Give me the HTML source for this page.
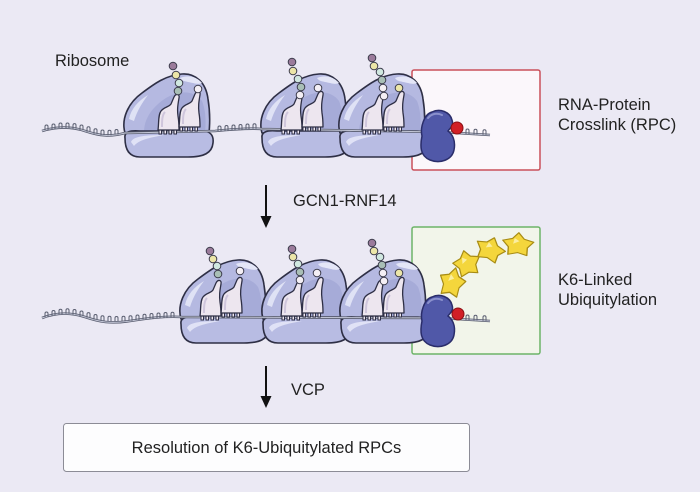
<!DOCTYPE html>
<html>
<head>
<meta charset="utf-8">
<style>
html,body{margin:0;padding:0;background:#ebe9f4;}
svg{display:block;}
text{font-family:"Liberation Sans",Arial,sans-serif;fill:#222;font-size:16.5px;}
</style>
</head>
<body>
<svg xmlns="http://www.w3.org/2000/svg" width="700" height="492" viewBox="0 0 700 492">
<defs>
  <g id="rib">
    <path d="M1,2 C-3,-12 4,-28 18,-38 C30,-47 42,-56 58,-57 C72,-58 82,-48 84,-32 C86,-20 86,-8 85,2 Z" fill="#b5b9e1" stroke="#2e2f45" stroke-width="1.6" stroke-linejoin="round"/>
    <path d="M20,1 C20,-12 28,-24 42,-33 C55,-41 70,-41 78,-30 C82,-20 82,-8 81,1 Z" fill="#a6abd8"/>
    <path d="M5,-12 C7,-22 14,-30 24,-36 C18,-28 13,-20 10,-10 Z" fill="#dfe2f5"/>
    <path d="M56,-53 C64,-56 72,-55 78,-48 C74,-46 70,-48 64,-49 C60,-50 58,-50 56,-53 Z" fill="#e4e6f7"/>
    <path d="M1,7 C0,1 6,-1 16,0 L78,0 C86,0 90,4 89,12 C88,22 80,26 64,26 L16,26 C6,26 1,20 1,7 Z" fill="#b8bce3" stroke="#2e2f45" stroke-width="1.6"/>
    <path d="M7,11 C9,6 18,4 40,4 C24,7 15,9 10,15 Z" fill="#e0e2f6"/>
  </g>
  <g id="t1">
    <path d="M1,-1 v4 h2.5 v-4 M6,-1 v4 h2.5 v-4 M11,-1 v4 h2.5 v-4 M16,-1 v4 h2.5 v-4" fill="#ede6ef" stroke="#2e2f45" stroke-width="1"/>
    <path d="M0,-1 C1,-8 0,-16 3,-20 C6,-24 11,-24 13,-27 L16,-34 C18,-38 22,-37 21,-33 C20,-27 19,-22 20,-15 C21,-9 21,-5 21,-1 Z" fill="#ede6ef" stroke="#2e2f45" stroke-width="1.3" stroke-linejoin="round"/>
    <path d="M4,-4 C4,-10 4,-16 7,-19" fill="none" stroke="#cfc6dc" stroke-width="2"/>
  </g>
  <g id="tr">
    <use href="#t1"/>
    <use href="#t1" transform="translate(21,-3)"/>
  </g>
  <g id="star">
    <polygon points="0,-13 4.7,-6.5 12.4,-4 7.6,2.5 7.6,10.5 0,8 -7.6,10.5 -7.6,2.5 -12.4,-4 -4.7,-6.5" fill="#f4d63c" stroke="#a88c14" stroke-width="1.1" stroke-linejoin="round"/>
    <polygon points="-3,-7 1,-4 -4,-1" fill="#fbeea0"/>
  </g>
  <g id="prot">
    <path d="M432,112 C440,108 450,112 452,120 C454,126 450,128 448,131 C452,134 456,140 454,150 C452,160 440,164 430,160 C420,156 420,146 422,136 C420,128 424,114 432,112 Z" fill="#5058a8" stroke="#2a2d6a" stroke-width="1.5"/>
    <path d="M428,118 C432,113 438,113 442,115" fill="none" stroke="#8a90cc" stroke-width="2" stroke-linecap="round"/>
  </g>
</defs>

<!-- Boxes -->
<rect x="412" y="70" width="128" height="100" rx="2" fill="#fbf7fb" stroke="#c9505b" stroke-width="1.5"/>
<rect x="412" y="227" width="128" height="127" rx="2" fill="#f2f5ea" stroke="#6db468" stroke-width="1.5"/>

<!-- Row 1 ribosomes -->
<use href="#rib" transform="translate(124,131)"/>
<use href="#rib" transform="translate(261,131)"/>
<use href="#rib" transform="translate(339,131)"/>

<!-- Row 1 mRNA -->
<path d="M42,131 C55,127 70,126 85,131 S110,137 125,133 L215,131 C235,129 250,128 262,129 L440,132 L490,135" fill="none" stroke="#5a5e70" stroke-width="2.6"/>
<path d="M42,131 C55,127 70,126 85,131 S110,137 125,133 L215,131 C235,129 250,128 262,129 L440,132 L490,135" fill="none" stroke="#c3c6d6" stroke-width="1"/>
<g fill="none" stroke="#5a5e70" stroke-width="1">
  <path d="M45,130 v-3.5 q0,-1.5 1.5,-1.5 q1.5,0 1.5,1.5 v3.5"/>
  <path d="M52,129 v-3.5 q0,-1.5 1.5,-1.5 q1.5,0 1.5,1.5 v3.5"/>
  <path d="M59,128 v-3.5 q0,-1.5 1.5,-1.5 q1.5,0 1.5,1.5 v3.5"/>
  <path d="M66,128 v-3.5 q0,-1.5 1.5,-1.5 q1.5,0 1.5,1.5 v3.5"/>
  <path d="M73,128.6 v-3.5 q0,-1.5 1.5,-1.5 q1.5,0 1.5,1.5 v3.5"/>
  <path d="M80,130 v-3.5 q0,-1.5 1.5,-1.5 q1.5,0 1.5,1.5 v3.5"/>
  <path d="M87,131.8 v-3.5 q0,-1.5 1.5,-1.5 q1.5,0 1.5,1.5 v3.5"/>
  <path d="M94,133.8 v-3.5 q0,-1.5 1.5,-1.5 q1.5,0 1.5,1.5 v3.5"/>
  <path d="M101,135 v-3.5 q0,-1.5 1.5,-1.5 q1.5,0 1.5,1.5 v3.5"/>
  <path d="M108,135.2 v-3.5 q0,-1.5 1.5,-1.5 q1.5,0 1.5,1.5 v3.5"/>
  <path d="M115,134.5 v-3.5 q0,-1.5 1.5,-1.5 q1.5,0 1.5,1.5 v3.5"/>
  <path d="M218,131 v-3.5 q0,-1.5 1.5,-1.5 q1.5,0 1.5,1.5 v3.5"/>
  <path d="M225,130.5 v-3.5 q0,-1.5 1.5,-1.5 q1.5,0 1.5,1.5 v3.5"/>
  <path d="M232,130 v-3.5 q0,-1.5 1.5,-1.5 q1.5,0 1.5,1.5 v3.5"/>
  <path d="M239,129.5 v-3.5 q0,-1.5 1.5,-1.5 q1.5,0 1.5,1.5 v3.5"/>
  <path d="M246,129 v-3.5 q0,-1.5 1.5,-1.5 q1.5,0 1.5,1.5 v3.5"/>
  <path d="M253,128.8 v-3.5 q0,-1.5 1.5,-1.5 q1.5,0 1.5,1.5 v3.5"/>
  <path d="M466,134 v-3.5 q0,-1.5 1.5,-1.5 q1.5,0 1.5,1.5 v3.5"/>
  <path d="M474,134.3 v-3.5 q0,-1.5 1.5,-1.5 q1.5,0 1.5,1.5 v3.5"/>
  <path d="M483,134.7 v-3.5 q0,-1.5 1.5,-1.5 q1.5,0 1.5,1.5 v3.5"/>
</g>

<!-- Row 1 tRNAs & chains -->
<use href="#tr" transform="translate(158,131)"/>
<use href="#tr" transform="translate(281,131)"/>
<use href="#tr" transform="translate(362,131)"/>
<g stroke="#3d3d4d" stroke-width="1">
  <circle cx="173" cy="66" r="3.8" fill="#9b7b9b"/>
  <circle cx="176" cy="75" r="3.8" fill="#ece6a8"/>
  <circle cx="179" cy="83" r="3.8" fill="#d0e8e0"/>
  <circle cx="178" cy="91" r="3.8" fill="#a9bfb6"/>
  <circle cx="198" cy="89" r="3.8" fill="#f4eff5"/>

  <circle cx="292" cy="62" r="3.8" fill="#9b7b9b"/>
  <circle cx="293" cy="71" r="3.8" fill="#ece6a8"/>
  <circle cx="298" cy="79" r="3.8" fill="#d0e8e0"/>
  <circle cx="301" cy="87" r="3.8" fill="#a9bfb6"/>
  <circle cx="300" cy="95" r="3.8" fill="#f4eff5"/>
  <circle cx="318" cy="88" r="3.8" fill="#f4eff5"/>

  <circle cx="372" cy="58" r="3.8" fill="#9b7b9b"/>
  <circle cx="374" cy="66" r="3.8" fill="#ece6a8"/>
  <circle cx="380" cy="72" r="3.8" fill="#d0e8e0"/>
  <circle cx="382" cy="80" r="3.8" fill="#a9bfb6"/>
  <circle cx="383" cy="88" r="3.8" fill="#f4eff5"/>
  <circle cx="384" cy="96" r="3.8" fill="#f4eff5"/>
  <circle cx="399" cy="88" r="3.8" fill="#ece6a8"/>
</g>

<!-- Row 1 protein + crosslink -->
<use href="#prot"/>
<circle cx="457" cy="128" r="6" fill="#d11f26" stroke="#8a1015" stroke-width="1"/>

<!-- Row 2 ribosomes -->
<use href="#rib" transform="translate(180,317)"/>
<use href="#rib" transform="translate(262,317)"/>
<use href="#rib" transform="translate(340,317)"/>

<!-- Row 2 mRNA -->
<path d="M42,318 C55,313 70,312 85,317 S110,324 130,321 C150,318 165,316 182,317 L440,318 L490,321" fill="none" stroke="#5a5e70" stroke-width="2.6"/>
<path d="M42,318 C55,313 70,312 85,317 S110,324 130,321 C150,318 165,316 182,317 L440,318 L490,321" fill="none" stroke="#c3c6d6" stroke-width="1"/>
<g fill="none" stroke="#5a5e70" stroke-width="1">
  <path d="M45,317 v-3.5 q0,-1.5 1.5,-1.5 q1.5,0 1.5,1.5 v3.5"/>
  <path d="M52,315.5 v-3.5 q0,-1.5 1.5,-1.5 q1.5,0 1.5,1.5 v3.5"/>
  <path d="M59,314.3 v-3.5 q0,-1.5 1.5,-1.5 q1.5,0 1.5,1.5 v3.5"/>
  <path d="M66,313.8 v-3.5 q0,-1.5 1.5,-1.5 q1.5,0 1.5,1.5 v3.5"/>
  <path d="M73,314.5 v-3.5 q0,-1.5 1.5,-1.5 q1.5,0 1.5,1.5 v3.5"/>
  <path d="M80,316 v-3.5 q0,-1.5 1.5,-1.5 q1.5,0 1.5,1.5 v3.5"/>
  <path d="M87,317.6 v-3.5 q0,-1.5 1.5,-1.5 q1.5,0 1.5,1.5 v3.5"/>
  <path d="M94,319.5 v-3.5 q0,-1.5 1.5,-1.5 q1.5,0 1.5,1.5 v3.5"/>
  <path d="M101,320.8 v-3.5 q0,-1.5 1.5,-1.5 q1.5,0 1.5,1.5 v3.5"/>
  <path d="M108,321.3 v-3.5 q0,-1.5 1.5,-1.5 q1.5,0 1.5,1.5 v3.5"/>
  <path d="M115,321.5 v-3.5 q0,-1.5 1.5,-1.5 q1.5,0 1.5,1.5 v3.5"/>
  <path d="M122,321.2 v-3.5 q0,-1.5 1.5,-1.5 q1.5,0 1.5,1.5 v3.5"/>
  <path d="M129,320.7 v-3.5 q0,-1.5 1.5,-1.5 q1.5,0 1.5,1.5 v3.5"/>
  <path d="M136,320 v-3.5 q0,-1.5 1.5,-1.5 q1.5,0 1.5,1.5 v3.5"/>
  <path d="M143,319.2 v-3.5 q0,-1.5 1.5,-1.5 q1.5,0 1.5,1.5 v3.5"/>
  <path d="M150,318.5 v-3.5 q0,-1.5 1.5,-1.5 q1.5,0 1.5,1.5 v3.5"/>
  <path d="M157,318 v-3.5 q0,-1.5 1.5,-1.5 q1.5,0 1.5,1.5 v3.5"/>
  <path d="M164,317.5 v-3.5 q0,-1.5 1.5,-1.5 q1.5,0 1.5,1.5 v3.5"/>
  <path d="M171,317.2 v-3.5 q0,-1.5 1.5,-1.5 q1.5,0 1.5,1.5 v3.5"/>
  <path d="M466,320 v-3.5 q0,-1.5 1.5,-1.5 q1.5,0 1.5,1.5 v3.5"/>
  <path d="M474,320.3 v-3.5 q0,-1.5 1.5,-1.5 q1.5,0 1.5,1.5 v3.5"/>
  <path d="M483,320.7 v-3.5 q0,-1.5 1.5,-1.5 q1.5,0 1.5,1.5 v3.5"/>
</g>

<!-- Row 2 tRNAs & chains -->
<use href="#tr" transform="translate(200,317)"/>
<use href="#tr" transform="translate(281,317)"/>
<use href="#tr" transform="translate(362,317)"/>
<g stroke="#3d3d4d" stroke-width="1">
  <circle cx="210" cy="251" r="3.8" fill="#9b7b9b"/>
  <circle cx="213" cy="259" r="3.8" fill="#ece6a8"/>
  <circle cx="217" cy="266" r="3.8" fill="#d0e8e0"/>
  <circle cx="218" cy="274" r="3.8" fill="#a9bfb6"/>
  <circle cx="240" cy="271" r="3.8" fill="#f4eff5"/>

  <circle cx="292" cy="249" r="3.8" fill="#9b7b9b"/>
  <circle cx="293" cy="257" r="3.8" fill="#ece6a8"/>
  <circle cx="298" cy="264" r="3.8" fill="#d0e8e0"/>
  <circle cx="300" cy="272" r="3.8" fill="#a9bfb6"/>
  <circle cx="300" cy="280" r="3.8" fill="#f4eff5"/>
  <circle cx="317" cy="273" r="3.8" fill="#f4eff5"/>

  <circle cx="372" cy="243" r="3.8" fill="#9b7b9b"/>
  <circle cx="374" cy="251" r="3.8" fill="#ece6a8"/>
  <circle cx="380" cy="257" r="3.8" fill="#d0e8e0"/>
  <circle cx="382" cy="265" r="3.8" fill="#a9bfb6"/>
  <circle cx="383" cy="273" r="3.8" fill="#f4eff5"/>
  <circle cx="384" cy="281" r="3.8" fill="#f4eff5"/>
  <circle cx="399" cy="273" r="3.8" fill="#ece6a8"/>
</g>

<!-- Row 2 protein + crosslink + ubiquitin chain -->
<use href="#prot" transform="translate(0,185)"/>
<circle cx="458" cy="314" r="6" fill="#d11f26" stroke="#8a1015" stroke-width="1"/>
<use href="#star" transform="translate(452,283) rotate(14) scale(1.05,1.2)"/>
<use href="#star" transform="translate(467,264) rotate(-14) scale(1.1,1.05)"/>
<use href="#star" transform="translate(490,250) rotate(20) scale(1.2,1.0)"/>
<use href="#star" transform="translate(518,245) rotate(4) scale(1.25,0.95)"/>

<!-- Arrows -->
<line x1="266" y1="185" x2="266" y2="218" stroke="#111" stroke-width="2"/>
<polygon points="260.5,216 271.5,216 266,228" fill="#111"/>
<line x1="266" y1="366" x2="266" y2="398" stroke="#111" stroke-width="2"/>
<polygon points="260.5,396 271.5,396 266,408" fill="#111"/>

<!-- Bottom box -->
<rect x="63.5" y="423.5" width="406" height="48" rx="3" fill="#fdfdfe" stroke="#8c8c96" stroke-width="1"/>

<!-- Labels -->
<text x="55" y="66">Ribosome</text>
<text x="558" y="110">RNA-Protein</text>
<text x="558" y="130">Crosslink (RPC)</text>
<text x="293" y="206">GCN1-RNF14</text>
<text x="558" y="285">K6-Linked</text>
<text x="558" y="305">Ubiquitylation</text>
<text x="291" y="395">VCP</text>
<text x="266.5" y="453" text-anchor="middle">Resolution of K6-Ubiquitylated RPCs</text>
</svg>
</body>
</html>
